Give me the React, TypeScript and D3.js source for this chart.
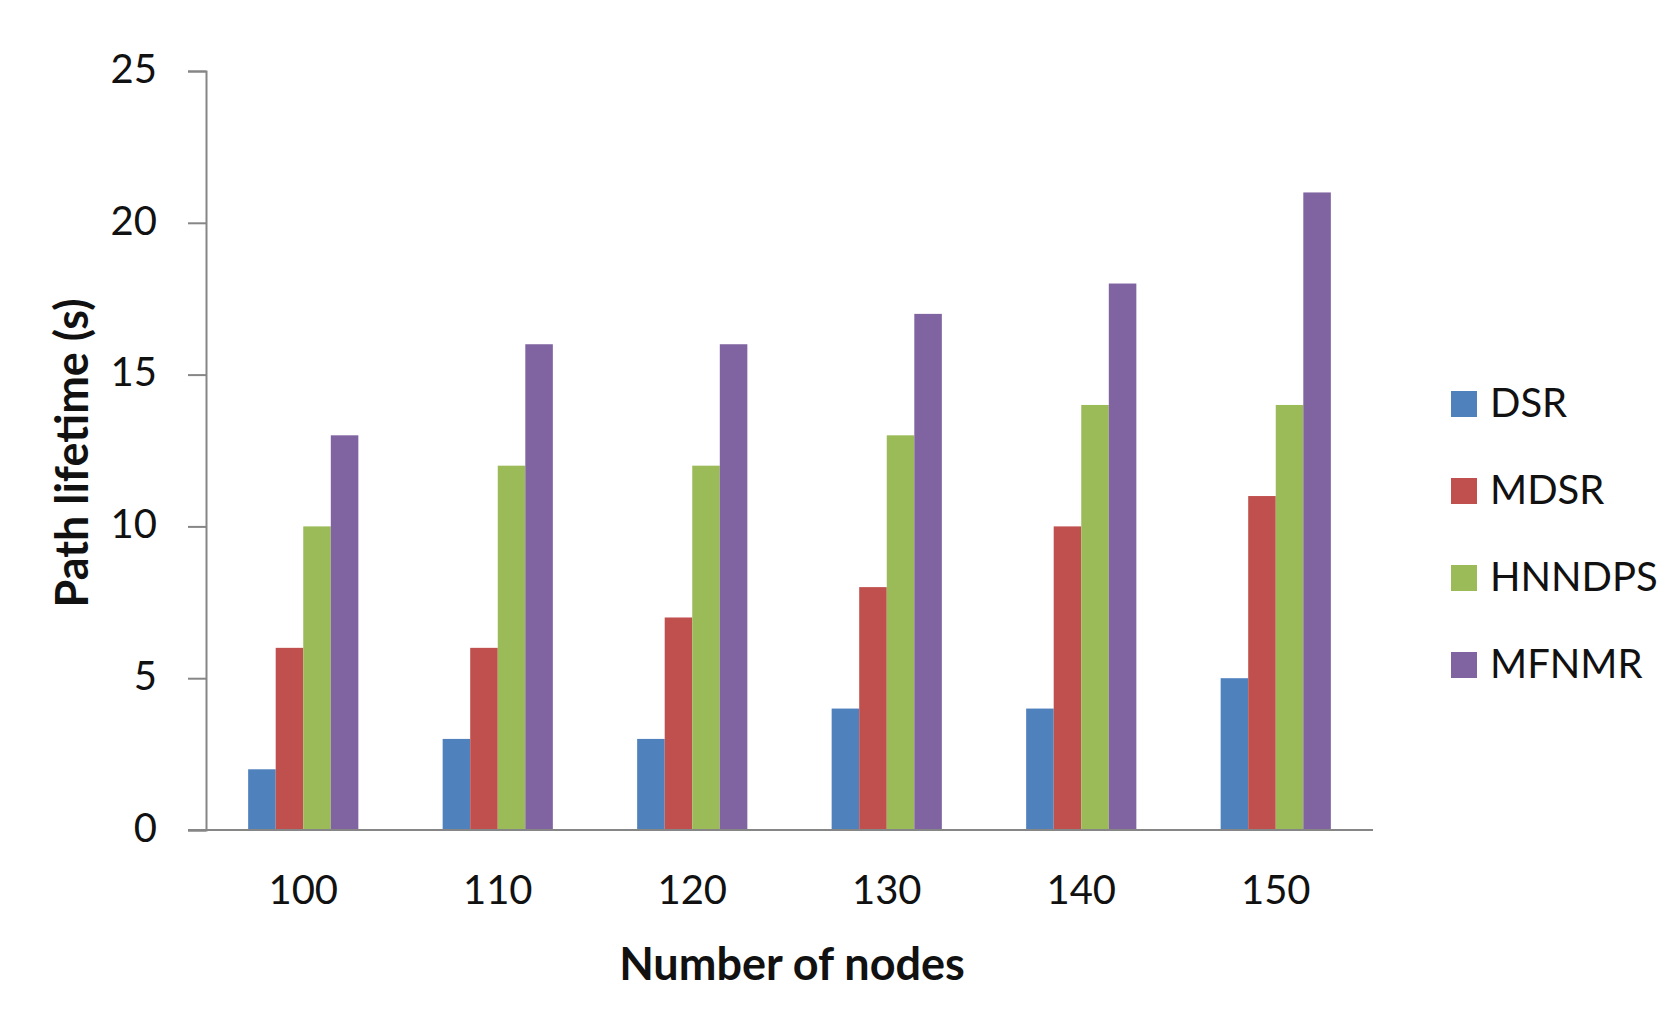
import * as d3 from 'd3';
import { useEffect, useRef } from 'react';

const nodeCounts = ['100', '110', '120', '130', '140', '150'];
const seriesNames = ['DSR', 'MDSR', 'HNNDPS', 'MFNMR'];
const seriesColors = ['#4F81BD', '#C0504D', '#9BBB59', '#8064A2'];

const dsr = [2, 3, 3, 4, 4, 5];
const mdsr = [6, 6, 7, 8, 10, 11];
const hnndps = [10, 12, 12, 13, 14, 14];
const mfnmr = [13, 16, 16, 17, 18, 21];

const yTicks = [0, 5, 10, 15, 20, 25];

export default function App() {
  const ref = useRef<SVGSVGElement | null>(null);

  useEffect(() => {
    if (!ref.current) return;
    document.body.style.margin = '0';

    const width = 1676;
    const height = 1010;
    const font = 'Lato, "Open Sans", sans-serif';

    const svg = d3.select(ref.current).attr('viewBox', `0 0 ${width} ${height}`);
    svg.selectAll('*').remove();

    svg.append('rect').attr('width', width).attr('height', height).attr('fill', '#fff');

    /* ========== SCALES ========== */

    const x = d3.scaleBand<string>().domain(nodeCounts).range([206, 1373]).padding(0);

    const xs = d3
      .scaleBand<string>()
      .domain(seriesNames)
      .range([0, x.bandwidth()])
      .paddingInner(0)
      .paddingOuter(1.53);

    const y = d3.scaleLinear().domain([0, 25]).range([830, 71]);

    const allSeries = [dsr, mdsr, hnndps, mfnmr];
    const rows = nodeCounts.flatMap((c, i) =>
      seriesNames.map((s, k) => ({ cat: c, series: s, value: allSeries[k][i], color: seriesColors[k] }))
    );

    /* ========== BARS ========== */

    svg
      .append('g')
      .selectAll('rect')
      .data(rows)
      .enter()
      .append('rect')
      .attr('x', (d) => (x(d.cat) ?? 0) + (xs(d.series) ?? 0))
      .attr('y', (d) => y(d.value))
      .attr('width', xs.bandwidth())
      .attr('height', (d) => y(0) - y(d.value))
      .attr('fill', (d) => d.color);

    /* ========== AXES ========== */

    const axisColor = '#868686';

    const yAxis = svg
      .append('g')
      .attr('transform', 'translate(206,0)')
      .call(d3.axisLeft(y).tickValues(yTicks).tickSize(18).tickPadding(31).tickFormat(d3.format('d')));
    yAxis.select('.domain').attr('stroke', axisColor).attr('stroke-width', 2);
    yAxis.selectAll('.tick line').attr('stroke', axisColor).attr('stroke-width', 2);
    yAxis
      .selectAll('.tick text')
      .attr('font-family', font)
      .attr('font-size', 40)
      .attr('fill', '#111')
      .attr('dy', '0.28em');

    svg
      .append('line')
      .attr('x1', 188)
      .attr('x2', 1373)
      .attr('y1', y(0))
      .attr('y2', y(0))
      .attr('stroke', axisColor)
      .attr('stroke-width', 2);

    const xAxis = svg
      .append('g')
      .attr('transform', `translate(0,${y(0)})`)
      .call(d3.axisBottom(x).tickSize(0).tickPadding(46));
    xAxis.select('.domain').remove();
    xAxis
      .selectAll('.tick text')
      .attr('font-family', font)
      .attr('font-size', 40)
      .attr('fill', '#111');

    /* ========== TITLES ========== */

    svg
      .append('text')
      .attr('x', 792)
      .attr('y', 980)
      .attr('text-anchor', 'middle')
      .attr('font-family', font)
      .attr('font-weight', 'bold')
      .attr('font-size', 45)
      .attr('fill', '#111')
      .text('Number of nodes');

    svg
      .append('text')
      .attr('transform', 'translate(88,453) rotate(-90)')
      .attr('text-anchor', 'middle')
      .attr('font-family', font)
      .attr('font-weight', 'bold')
      .attr('font-size', 45)
      .attr('fill', '#111')
      .text('Path lifetime (s)');

    /* ========== LEGEND ========== */

    const legend = svg
      .append('g')
      .selectAll('g')
      .data(seriesNames)
      .enter()
      .append('g')
      .attr('transform', (_d, i) => `translate(1451,${391 + i * 87})`);

    legend
      .append('rect')
      .attr('width', 26)
      .attr('height', 26)
      .attr('fill', (_d, i) => seriesColors[i]);

    legend
      .append('text')
      .attr('x', 39)
      .attr('y', 26)
      .attr('font-family', font)
      .attr('font-size', 40)
      .attr('fill', '#111')
      .text((d) => d);
  }, []);

  return <svg ref={ref} width={1676} height={1010} style={{ display: 'block' }} />;
}
